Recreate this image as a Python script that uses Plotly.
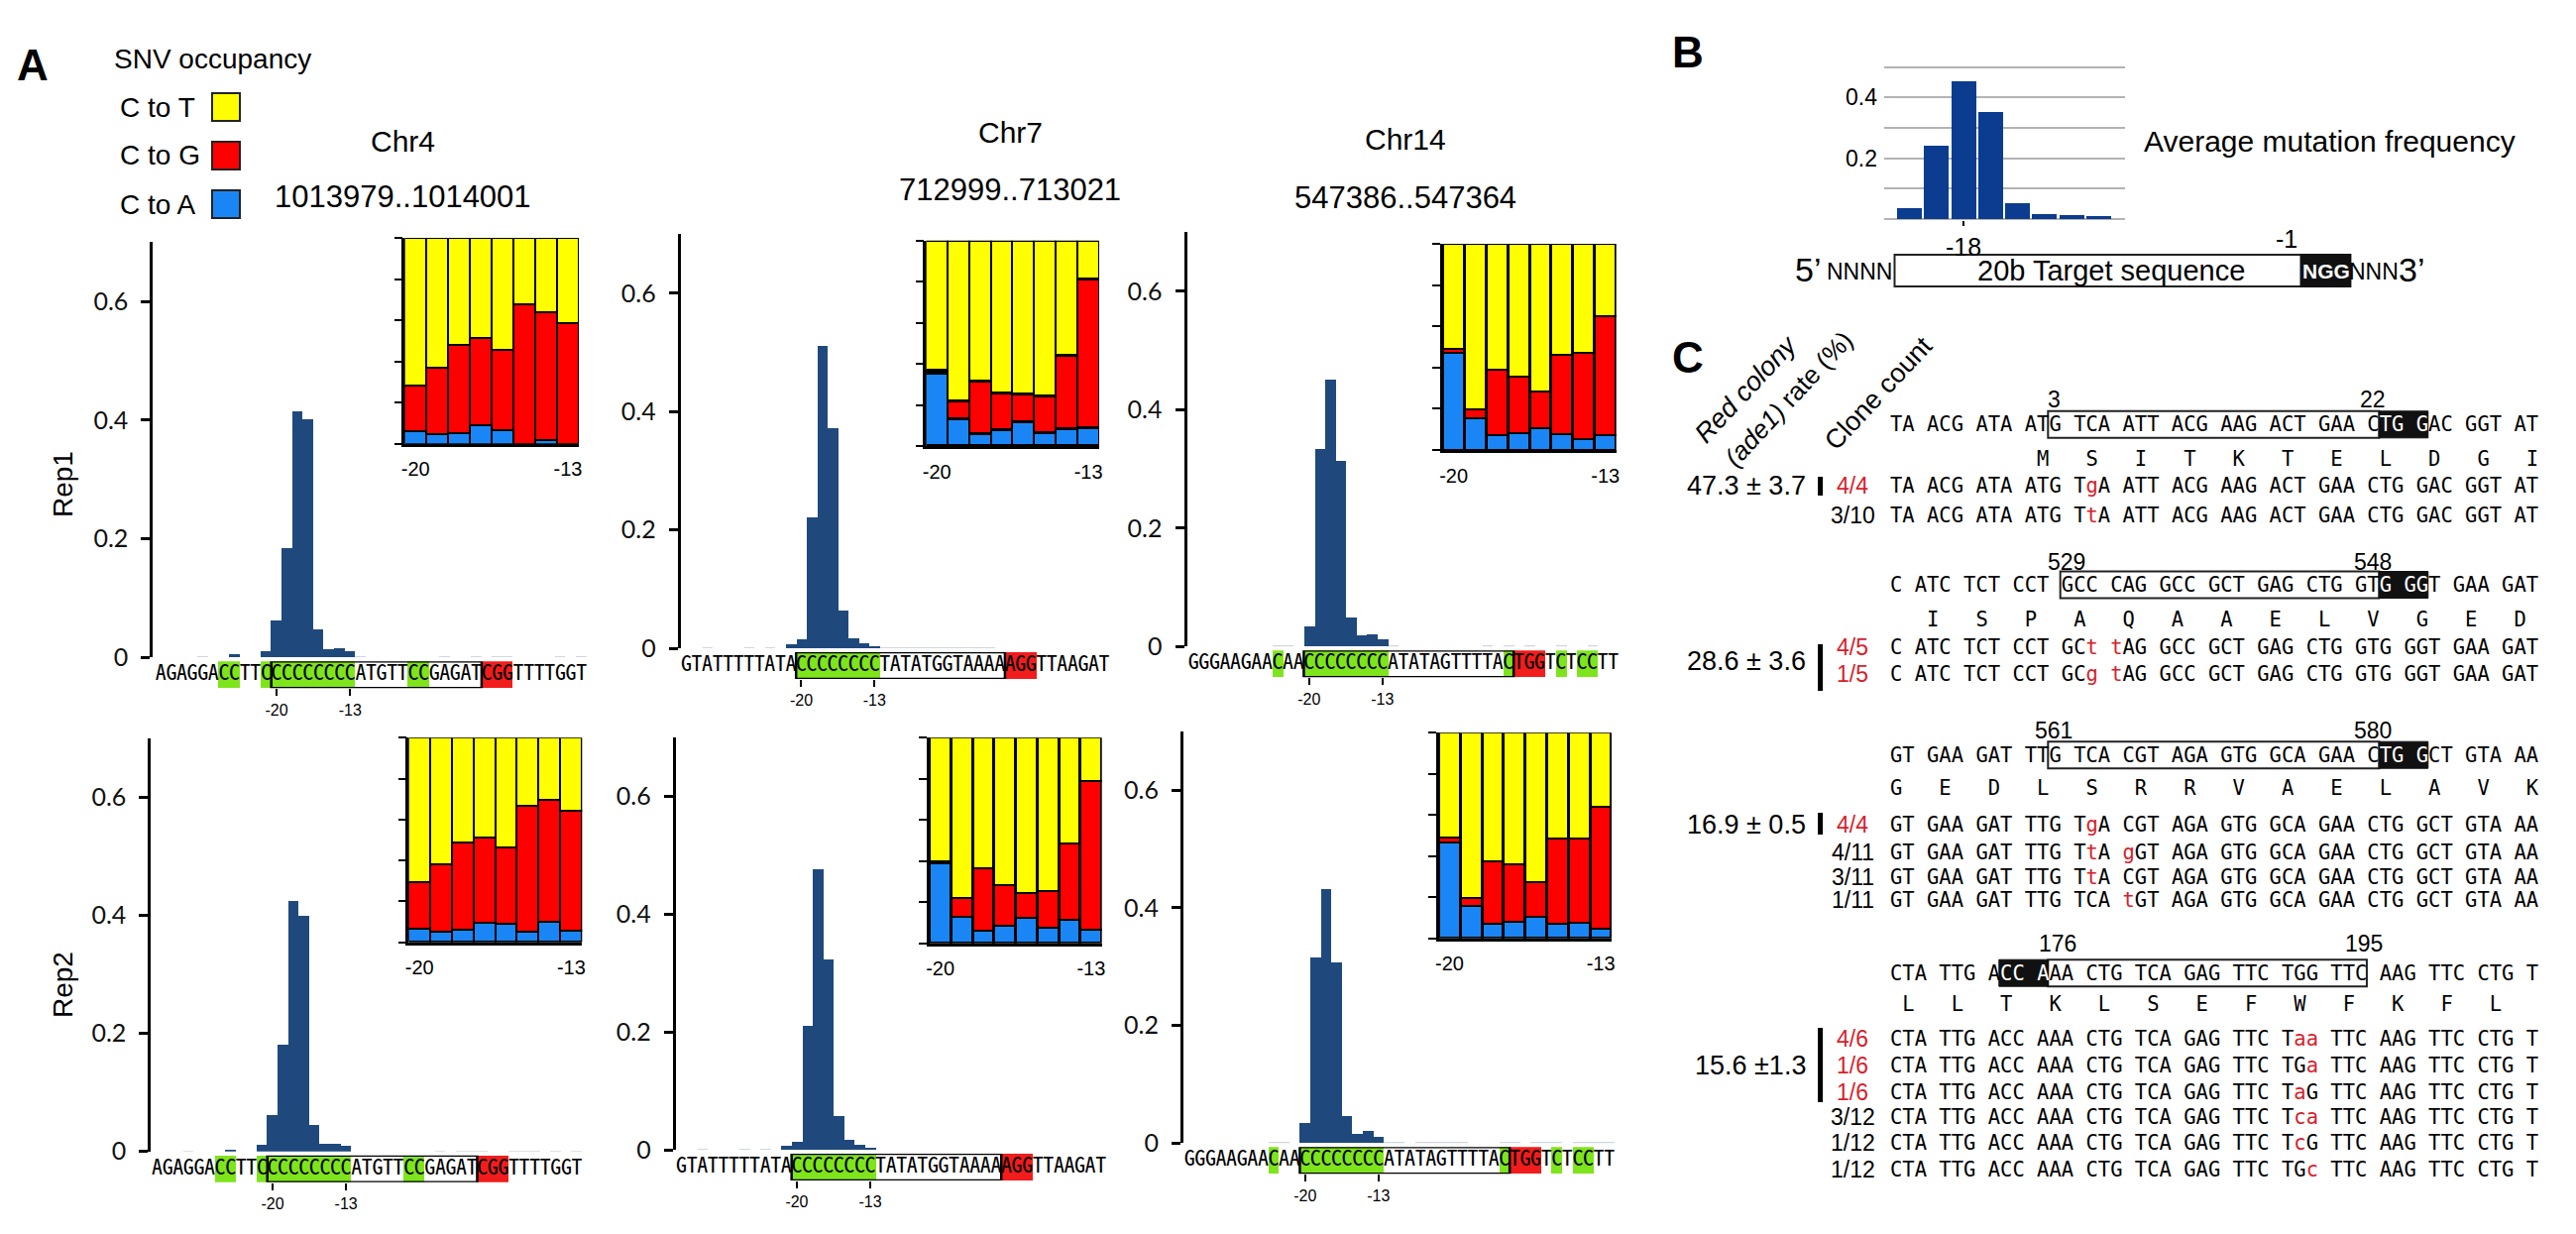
import plotly.graph_objects as go

W, H = 2599, 1245

# ============================ DATA ============================
seq_index = list(range(41))
seq_chr4 = "AGAGGACCTTCCCCCCCCCATGTTCCGAGATCGGTTTTGGT"
seq_chr7 = "GTATTTTTATACCCCCCCCTATATGGTAAAAAGGTTAAGAT"
seq_chr14 = "GGGAAGAACAACCCCCCCCATATAGTTTTACTGGTCTCCTT"
green_chr4 = [6, 7, 10, 11, 12, 13, 14, 15, 16, 17, 18, 24, 25]
green_chr7 = [11, 12, 13, 14, 15, 16, 17, 18]
green_chr14 = [8, 11, 12, 13, 14, 15, 16, 17, 18, 30, 35, 37, 38]
pam_index = [31, 32, 33]
target_first, target_last = 11, 30
site_ticks = [11, 18]
site_tick_labels = ["-20", "-13"]

chrom_names = ["Chr4", "Chr7", "Chr14"]
chrom_ranges = ["1013979..1014001", "712999..713021", "547386..547364"]
rep_names = ["Rep1", "Rep2"]

freq_chr4_rep1 = [0, 0, 0, 0, 0.001, 0, 0, 0.004, 0, 0, 0.010, 0.062, 0.183, 0.414, 0.400, 0.046, 0.013, 0.014, 0.010, 0.001,
                  0, 0, 0, 0, 0, 0, 0, 0.001, 0, 0, 0.001, 0, 0.001, 0.001, 0, 0, 0, 0, 0.001, 0, 0.001]
freq_chr7_rep1 = [0, 0, 0.001, 0, 0, 0, 0.001, 0, 0.001, 0, 0.006, 0.014, 0.221, 0.510, 0.372, 0.064, 0.017, 0.008, 0.003,
                  0.001, 0.001, 0.001, 0.001, 0.001, 0.001, 0.001, 0.001, 0.001, 0.001, 0.001,
                  0, 0, 0, 0, 0, 0, 0, 0, 0, 0, 0]
freq_chr14_rep1 = [0, 0, 0, 0, 0, 0, 0, 0, 0.002, 0.002, 0, 0.033, 0.334, 0.451, 0.313, 0.048, 0.018, 0.020, 0.012, 0.002,
                   0, 0, 0, 0, 0, 0, 0, 0, 0.001, 0, 0.001, 0, 0.001, 0, 0, 0.001, 0, 0, 0.001, 0, 0]
freq_chr4_rep2 = [0, 0, 0, 0.001, 0, 0, 0, 0.004, 0, 0, 0.011, 0.062, 0.182, 0.425, 0.400, 0.045, 0.013, 0.013, 0.010, 0,
                  0, 0, 0, 0, 0, 0, 0, 0.001, 0, 0.001, 0.001, 0.001, 0, 0, 0.001, 0.001, 0.001, 0, 0.001, 0, 0.001]
freq_chr7_rep2 = [0, 0, 0.001, 0, 0, 0, 0.001, 0, 0.002, 0, 0.007, 0.013, 0.211, 0.477, 0.324, 0.057, 0.017, 0.008, 0.004,
                  0, 0, 0, 0, 0, 0, 0, 0, 0, 0, 0, 0, 0, 0, 0, 0, 0, 0, 0, 0, 0, 0]
freq_chr14_rep2 = [0, 0, 0, 0, 0, 0, 0, 0, 0.002, 0.002, 0, 0.035, 0.315, 0.432, 0.308, 0.046, 0.016, 0.020, 0.011, 0.001,
                   0.001, 0, 0.001, 0.001, 0.001, 0.001, 0.001, 0, 0, 0, 0.001, 0.001, 0, 0.001, 0.001, 0.001, 0,
                   0.001, 0.001, 0.001, 0.001]

snv_pos = [-20, -19, -18, -17, -16, -15, -14, -13]
c2a_chr4_rep1 = [0.061, 0.048, 0.053, 0.090, 0.066, 0.000, 0.020, 0.000]
c2g_chr4_rep1 = [0.222, 0.323, 0.425, 0.425, 0.388, 0.676, 0.619, 0.586]
c2t_chr4_rep1 = [0.717, 0.629, 0.522, 0.485, 0.546, 0.324, 0.361, 0.414]
c2a_chr7_rep1 = [0.354, 0.132, 0.061, 0.080, 0.119, 0.064, 0.084, 0.088]
c2g_chr7_rep1 = [0.013, 0.085, 0.256, 0.177, 0.135, 0.177, 0.355, 0.724]
c2t_chr7_rep1 = [0.633, 0.783, 0.683, 0.743, 0.746, 0.759, 0.561, 0.188]
c2a_chr14_rep1 = [0.471, 0.152, 0.071, 0.083, 0.104, 0.075, 0.051, 0.072]
c2g_chr14_rep1 = [0.021, 0.044, 0.320, 0.273, 0.180, 0.385, 0.420, 0.575]
c2t_chr14_rep1 = [0.508, 0.804, 0.609, 0.644, 0.716, 0.540, 0.529, 0.353]
c2a_chr4_rep2 = [0.063, 0.052, 0.058, 0.092, 0.089, 0.048, 0.097, 0.055]
c2g_chr4_rep2 = [0.228, 0.328, 0.427, 0.417, 0.375, 0.617, 0.596, 0.586]
c2t_chr4_rep2 = [0.709, 0.620, 0.515, 0.491, 0.536, 0.335, 0.307, 0.359]
c2a_chr7_rep2 = [0.386, 0.129, 0.061, 0.084, 0.121, 0.076, 0.113, 0.064]
c2g_chr7_rep2 = [0.013, 0.088, 0.301, 0.197, 0.123, 0.178, 0.373, 0.724]
c2t_chr7_rep2 = [0.601, 0.783, 0.638, 0.719, 0.756, 0.746, 0.514, 0.212]
c2a_chr14_rep2 = [0.466, 0.158, 0.068, 0.080, 0.105, 0.069, 0.072, 0.045]
c2g_chr14_rep2 = [0.021, 0.035, 0.307, 0.277, 0.165, 0.413, 0.414, 0.595]
c2t_chr14_rep2 = [0.513, 0.807, 0.625, 0.643, 0.730, 0.518, 0.514, 0.360]
snv_names = ["C to T", "C to G", "C to A"]

avg_pos = [-20, -19, -18, -17, -16, -15, -14, -13]
avg_freq = [0.036, 0.242, 0.454, 0.353, 0.051, 0.015, 0.013, 0.009]

c_ref_seqs = ["TA ACG ATA ATG TCA ATT ACG AAG ACT GAA CTG GAC GGT AT",
              "C ATC TCT CCT GCC CAG GCC GCT GAG CTG GTG GGT GAA GAT",
              "GT GAA GAT TTG TCA CGT AGA GTG GCA GAA CTG GCT GTA AA",
              "CTA TTG ACC AAA CTG TCA GAG TTC TGG TTC AAG TTC CTG T"]
c_aa = ["MSITKTELDGI", "ISPAQAAELVGED", "GEDLSRRVAELAVK", "LLTKLSEFWFKFL"]
c_target_labels = [("3", "22"), ("529", "548"), ("561", "580"), ("176", "195")]
c_rates = ["47.3 ± 3.7", "28.6 ± 3.6", "16.9 ± 0.5", "15.6 ±1.3"]
c_clone_counts = [["4/4", "3/10"], ["4/5", "1/5"], ["4/4", "4/11", "3/11", "1/11"],
                  ["4/6", "1/6", "1/6", "3/12", "1/12", "1/12"]]
c_clone_red = [[True, False], [True, True], [True, False, False, False],
               [True, True, True, False, False, False]]
c_clone_seqs = [
    ["TA ACG ATA ATG TgA ATT ACG AAG ACT GAA CTG GAC GGT AT",
     "TA ACG ATA ATG TtA ATT ACG AAG ACT GAA CTG GAC GGT AT"],
    ["C ATC TCT CCT GCt tAG GCC GCT GAG CTG GTG GGT GAA GAT",
     "C ATC TCT CCT GCg tAG GCC GCT GAG CTG GTG GGT GAA GAT"],
    ["GT GAA GAT TTG TgA CGT AGA GTG GCA GAA CTG GCT GTA AA",
     "GT GAA GAT TTG TtA gGT AGA GTG GCA GAA CTG GCT GTA AA",
     "GT GAA GAT TTG TtA CGT AGA GTG GCA GAA CTG GCT GTA AA",
     "GT GAA GAT TTG TCA tGT AGA GTG GCA GAA CTG GCT GTA AA"],
    ["CTA TTG ACC AAA CTG TCA GAG TTC Taa TTC AAG TTC CTG T",
     "CTA TTG ACC AAA CTG TCA GAG TTC TGa TTC AAG TTC CTG T",
     "CTA TTG ACC AAA CTG TCA GAG TTC TaG TTC AAG TTC CTG T",
     "CTA TTG ACC AAA CTG TCA GAG TTC Tca TTC AAG TTC CTG T",
     "CTA TTG ACC AAA CTG TCA GAG TTC TcG TTC AAG TTC CTG T",
     "CTA TTG ACC AAA CTG TCA GAG TTC TGc TTC AAG TTC CTG T"],
]

# ============================ STYLE / LAYOUT ============================
ARIAL = "Liberation Sans, Arial, sans-serif"
LATO = "Lato, Calibri, sans-serif"
SEQA = "Noto Sans Mono CJK JP, Noto Sans Mono CJK SC, DejaVu Sans Mono, monospace"
MONO = "DejaVu Sans Mono, monospace"
BAR_DARK = "#1f497d"
BAR_LIGHT = "#cfd7e2"
YEL, RED, BLU = "#ffff00", "#ff0000", "#1a86f5"
GREEN_HL, RED_HL = "#7ee41c", "#f21c1c"
RED_TXT = "#d81e2c"
B_BLUE = "#0b3c8f"


def hx(x):
    return x / W


def hy(y):
    return 1 - y / H


def xk(n):
    return "xaxis" if n == 1 else f"xaxis{n}"


def yk(n):
    return "yaxis" if n == 1 else f"yaxis{n}"


def xr_(n):
    return "x" if n == 1 else f"x{n}"


def yr_(n):
    return "y" if n == 1 else f"y{n}"


base_axis = dict(showgrid=False, zeroline=False, showline=False, ticks="",
                 showticklabels=False, fixedrange=True)

traces, shapes, anns = [], [], []
axes = {}


def text(x, y, s, size, color="black", family=ARIAL, xanchor="center", yanchor="middle", angle=0):
    anns.append(dict(x=hx(x), y=hy(y), xref="paper", yref="paper", text=s, showarrow=False,
                     font=dict(size=size, color=color, family=family), xanchor=xanchor,
                     yanchor=yanchor, textangle=angle, borderpad=0))


def rect(x0, y0, x1, y1, line="black", width=2, fill=None, layer="above"):
    shapes.append(dict(type="rect", xref="paper", yref="paper", x0=hx(x0), x1=hx(x1),
                       y0=hy(y1), y1=hy(y0), line=dict(color=line, width=width),
                       fillcolor=fill, layer=layer))


panelsA = [
    dict(seq=seq_chr4, green=green_chr4, freq=freq_chr4_rep1,
         snv=(c2t_chr4_rep1, c2g_chr4_rep1, c2a_chr4_rep1),
         geo=(154.3, 157, 592, 663.3, 598.3), inset=(408.3, 584, 240, 447.7)),
    dict(seq=seq_chr7, green=green_chr7, freq=freq_chr7_rep1,
         snv=(c2t_chr7_rep1, c2g_chr7_rep1, c2a_chr7_rep1),
         geo=(686.7, 687.3, 1119.3, 654, 596.7), inset=(934.3, 1109, 242.7, 450)),
    dict(seq=seq_chr14, green=green_chr14, freq=freq_chr14_rep1,
         snv=(c2t_chr14_rep1, c2g_chr14_rep1, c2a_chr14_rep1),
         geo=(1197.5, 1199, 1633, 652.3, 597.2), inset=(1455.7, 1630.7, 246, 454)),
    dict(seq=seq_chr4, green=green_chr4, freq=freq_chr4_rep2,
         snv=(c2t_chr4_rep2, c2g_chr4_rep2, c2a_chr4_rep2),
         geo=(152.3, 153.3, 587.3, 1161.7, 595.7), inset=(412.3, 587.3, 744.3, 950.7)),
    dict(seq=seq_chr7, green=green_chr7, freq=freq_chr7_rep2,
         snv=(c2t_chr7_rep2, c2g_chr7_rep2, c2a_chr7_rep2),
         geo=(681.7, 682.3, 1116, 1160, 594.5), inset=(937.7, 1111.7, 744.3, 951.7)),
    dict(seq=seq_chr14, green=green_chr14, freq=freq_chr14_rep2,
         snv=(c2t_chr14_rep2, c2g_chr14_rep2, c2a_chr14_rep2),
         geo=(1194, 1195, 1629, 1153.3, 593.3), inset=(1451.6, 1626, 739.3, 946.7)),
]

for p, P in enumerate(panelsA):
    nm, ns, ni = 3 * p + 1, 3 * p + 2, 3 * p + 3
    ax_x, seq_l, seq_r, zero, unit = P["geo"]
    pitch = (seq_r - seq_l) / 41
    xr = [-0.5 - (seq_l - ax_x) / pitch, 40.5]
    xdom = [hx(ax_x), hx(seq_r)]
    top = zero - 0.7 * unit
    # main histogram
    axes[xk(nm)] = dict(base_axis, domain=xdom, range=xr, anchor=yr_(nm))
    axes[yk(nm)] = dict(base_axis, domain=[hy(zero), hy(top)], range=[0, 0.7], anchor=xr_(nm),
                        showline=True, linecolor="black", linewidth=3, ticks="outside", ticklen=9,
                        tickwidth=3, tickcolor="black", tickvals=[0, 0.2, 0.4, 0.6],
                        ticktext=["0", "0.2", "0.4", "0.6"], showticklabels=True,
                        tickfont=dict(family=LATO, size=25, color="#111"), ticklabelstandoff=8)
    traces.append(go.Bar(x=seq_index, y=P["freq"], width=1, xaxis=xr_(nm), yaxis=yr_(nm),
                         marker=dict(color=[BAR_DARK if v >= 0.0025 else BAR_LIGHT for v in P["freq"]],
                                     line=dict(width=0))))
    # sequence strip
    s_top, s_bot = zero + 4, zero + 31
    axes[xk(ns)] = dict(base_axis, domain=xdom, range=xr, anchor=yr_(ns), ticks="outside", ticklen=7,
                        tickwidth=2, tickcolor="black", tickvals=site_ticks, ticktext=site_tick_labels,
                        showticklabels=True, tickfont=dict(family=ARIAL, size=16))
    axes[yk(ns)] = dict(base_axis, domain=[hy(s_bot), hy(s_top)], range=[0, 1], anchor=xr_(ns))
    traces.append(go.Bar(x=P["green"], y=[1] * len(P["green"]), width=1, xaxis=xr_(ns), yaxis=yr_(ns),
                         marker=dict(color=GREEN_HL, line=dict(width=0))))
    traces.append(go.Bar(x=pam_index, y=[1] * len(pam_index), width=1, xaxis=xr_(ns), yaxis=yr_(ns),
                         marker=dict(color=RED_HL, line=dict(width=0))))
    traces.append(go.Scatter(x=seq_index, y=[0.5] * 41, mode="text", text=list(P["seq"]),
                             textposition="middle center", cliponaxis=False,
                             textfont=dict(family=SEQA, size=22, color="black"),
                             xaxis=xr_(ns), yaxis=yr_(ns)))
    shapes.append(dict(type="rect", xref=xr_(ns), yref=yr_(ns), x0=target_first - 0.5,
                       x1=target_last + 0.5, y0=0, y1=1, line=dict(color="black", width=2.5),
                       layer="above"))
    # inset stacked bars
    il, ir, it, ib = P["inset"]
    axes[xk(ni)] = dict(base_axis, domain=[hx(il), hx(ir)], range=[-20.5, -12.5], anchor=yr_(ni),
                        showline=True, linecolor="black", linewidth=2.5, tickvals=[-20, -13],
                        ticktext=["-20", "-13"], showticklabels=True,
                        tickfont=dict(family=ARIAL, size=20), ticklabelstandoff=6)
    axes[yk(ni)] = dict(base_axis, domain=[hy(ib), hy(it)], range=[0, 1], anchor=xr_(ni),
                        showline=True, linecolor="black", linewidth=2.5, ticks="outside", ticklen=8,
                        tickwidth=2, tickcolor="black", tickvals=[0, 0.2, 0.4, 0.6, 0.8, 1.0])
    c2t, c2g, c2a = P["snv"]
    for vals, col in ((c2a, BLU), (c2g, RED), (c2t, YEL)):
        traces.append(go.Bar(x=snv_pos, y=vals, width=1, xaxis=xr_(ni), yaxis=yr_(ni),
                             marker=dict(color=col, line=dict(color="black", width=2.5))))

# panel A titles and labels
title_x = [407, 1019, 1418]
title_y = [(142, 198), (133, 191), (141, 199)]
for i in range(3):
    text(title_x[i], title_y[i][0], chrom_names[i], 30)
    text(title_x[i], title_y[i][1], chrom_ranges[i], 31)
text(63, 489, rep_names[0], 28, angle=-90)
text(63, 994, rep_names[1], 28, angle=-90)
text(33, 66, "<b>A</b>", 44)
text(114, 59, "SNV occupancy", 28, xanchor="left")
leg_y = [108, 157, 206]
for name, col, yy in zip(snv_names, (YEL, RED, BLU), leg_y):
    text(120, yy, name, 28, xanchor="left")
    rect(214, yy - 14, 242, yy + 14, line="#222", width=2, fill=col)

# ============================ PANEL B ============================
nb = 19
b_unit = 306.6
axes[xk(nb)] = dict(base_axis, domain=[hx(1901), hx(2144)], range=[-20.94, -12.02], anchor=yr_(nb),
                    ticks="outside", ticklen=5, tickwidth=2, tickcolor="black", tickvals=[-18],
                    ticktext=["-18"], showticklabels=True, tickfont=dict(family=ARIAL, size=25),
                    ticklabelstandoff=0)
axes[yk(nb)] = dict(base_axis, domain=[hy(221 + 0.003 * b_unit), hy(221 - 0.505 * b_unit)],
                    range=[-0.003, 0.505], anchor=xr_(nb), showgrid=True, gridcolor="#b3b3b3",
                    gridwidth=2, zeroline=True, zerolinecolor="#b3b3b3", zerolinewidth=2,
                    tickvals=[0, 0.1, 0.2, 0.3, 0.4, 0.5], ticktext=["", "", "0.2", "", "0.4", ""],
                    showticklabels=True, tickfont=dict(family=ARIAL, size=23), ticklabelstandoff=6)
traces.append(go.Bar(x=avg_pos, y=avg_freq, width=0.92, xaxis=xr_(nb), yaxis=yr_(nb),
                     marker=dict(color=B_BLUE, line=dict(width=0))))
text(1703, 52, "<b>B</b>", 44)
text(2162, 142, "Average mutation frequency", 30, xanchor="left")
text(2307, 241, "-1", 25)
rect(1911.5, 257, 2321.7, 289, line="#222", width=2, fill="white", layer="below")
rect(2321.7, 257, 2371.4, 289, line="#111", width=2, fill="#111", layer="below")
text(2130, 273, "20b Target sequence", 29)
text(2346.5, 273, "<b>NGG</b>", 21, color="white")
text(1824, 272, "5’", 34)
text(1876, 274, "NNNN", 23)
text(2395, 274, "NNN", 23)
text(2433, 272, "3’", 34)

# ============================ PANEL C ============================
text(1703, 361, "<b>C</b>", 44)
text(1762, 392, "<i>Red colony</i>", 27, angle=-47)
text(1805, 402, "<i>(ade1)</i> rate (%)", 26, angle=-47)
text(1895, 397, "Clone count", 27, angle=-47)

c_x0 = 1905.5
c_pitch = 12.37
c_aa_start = [12, 3, 0, 1]
c_white_box = [(13, 40), (14, 40), (13, 40), (13, 39)]
c_black_box = [(40, 44), (40, 44), (40, 44), (9, 13)]
c_lbl_idx = [(13.5, 39.5), (14.5, 39.5), (13.5, 39.5), (13.8, 38.8)]
c_y_lbl = [403.3, 566.7, 736.7, 951.7]
c_y_ref = [428.3, 590, 761.7, 981.7]
c_y_aa = [463.3, 625, 795, 1013.3]
c_y_rows = [[490, 520], [653.3, 680], [831.7, 860, 885, 908.3],
            [1048.3, 1075, 1101.7, 1126.7, 1153.3, 1180]]
c_y_rate = [490, 666.7, 831.7, 1075]
c_bar_y = [(481, 500), (650, 697), (820, 842), (1037, 1112)]


def cx(i):
    return c_x0 + i * c_pitch


def seq_html(s, white=()):
    out = []
    for i, ch in enumerate(s):
        c = "\u00a0" if ch == " " else ch
        if i in white:
            out.append(f"<span style='color:white'>{c}</span>")
        elif ch.islower():
            out.append(f"<span style='color:{RED_TXT}'>{c}</span>")
        else:
            out.append(c)
    return "".join(out)


for b in range(4):
    wa, wb = c_white_box[b]
    ba, bb = c_black_box[b]
    yref = c_y_ref[b]
    rect(cx(wa), yref - 13.5, cx(wb), yref + 13.5, line="#222", width=2, fill="white")
    rect(cx(ba), yref - 13.5, cx(bb), yref + 13.5, line="#111", width=1, fill="#111")
    white_idx = [i for i in range(ba, bb) if c_ref_seqs[b][i] != " "]
    text(c_x0, yref, seq_html(c_ref_seqs[b], white_idx), 20.5, family=MONO, xanchor="left")
    l1, l2 = c_lbl_idx[b]
    text(cx(l1), c_y_lbl[b], c_target_labels[b][0], 23)
    text(cx(l2), c_y_lbl[b], c_target_labels[b][1], 23)
    aa_row = ["\u00a0"] * 53
    for k, letter in enumerate(c_aa[b]):
        aa_row[c_aa_start[b] + 4 * k] = letter
    text(c_x0, c_y_aa[b], "".join(aa_row), 20.5, family=MONO, xanchor="left")
    for j, s in enumerate(c_clone_seqs[b]):
        yy = c_y_rows[b][j]
        text(c_x0, yy, seq_html(s), 20.5, family=MONO, xanchor="left")
        text(1869, yy, c_clone_counts[b][j], 23, color=RED_TXT if c_clone_red[b][j] else "black")
    text(1823, c_y_rate[b], c_rates[b], 27, xanchor="right")
    y0, y1 = c_bar_y[b]
    shapes.append(dict(type="line", xref="paper", yref="paper", x0=hx(1836.6), x1=hx(1836.6),
                       y0=hy(y0), y1=hy(y1), line=dict(color="black", width=5)))

fig = go.Figure(data=traces)
fig.update_layout(width=W, height=H, margin=dict(l=0, r=0, t=0, b=0), template="none",
                  paper_bgcolor="white", plot_bgcolor="rgba(0,0,0,0)", showlegend=False,
                  barmode="stack", bargap=0, hovermode=False,
                  font=dict(family=ARIAL, color="black"), shapes=shapes, annotations=anns, **axes)
fig.write_html("out.html")
